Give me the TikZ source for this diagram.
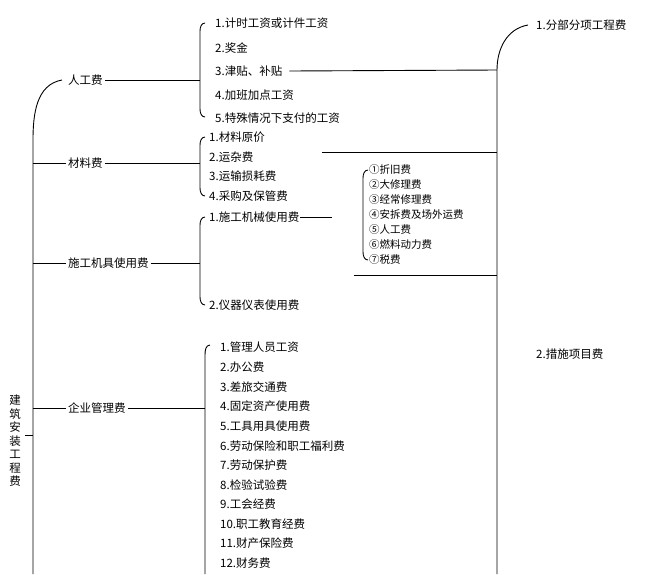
\documentclass[tikz,border=0pt]{standalone}
\usepackage{fontspec}
\setmainfont{Noto Sans CJK SC}
\usetikzlibrary{calc}
\tikzset{
  item/.style={anchor=west,inner sep=1pt,font=\fontsize{11.5}{13}\selectfont},
  small/.style={anchor=west,inner sep=0pt,font=\fontsize{10.5}{12}\selectfont},
  head/.style={inner sep=2pt,font=\fontsize{11.5}{13}\selectfont},
  line/.style={line width=.9pt}
}
\newcommand{\brc}[3]{\draw[line] ($(#1,#2)+(5,0)$) to[out=180,in=90] ($(#1,#2)+(0,8)$) -- ($(#1,#3)+(0,-8)$) to[out=-90,in=180] ($(#1,#3)+(5,0)$);}
\begin{document}
\begin{tikzpicture}[x=1pt,y=-1pt]
\useasboundingbox (0,0) rectangle (647,574);

%root
\node[head,align=center,inner sep=0pt,font=\fontsize{11.5}{13.5}\selectfont] (root) at (15,441) {建\\筑\\安\\装\\工\\程\\费};
\coordinate (spine) at (33,435);
\draw[line] (25,435) -- (spine);
\draw[line] (33,574) -- (33,140) to[out=90,in=190] (62,80);

%labour
\node[head,anchor=west] (lab) at (66,80) {人工费};
\draw[line] (lab.east) -- (200,80);
\brc{200}{23}{117}
\node[item] (l1) at (214,23) {1.计时工资或计件工资};
\node[item] (l2) at (214,48) {2.奖金};
\node[item] (l3) at (214,71) {3.津贴、补贴};
\node[item] (l4) at (214,95) {4.加班加点工资};
\node[item] (l5) at (214,118) {5.特殊情况下支付的工资};

%material
\node[head,anchor=west] (mat) at (66,163) {材料费};
\draw[line] (33,163) -- (mat.west);
\draw[line] (mat.east) -- (200,163);
\brc{200}{137}{196}
\node[item] (m1) at (208,137) {1.材料原价};
\node[item] (m2) at (208,157) {2.运杂费};
\node[item] (m3) at (208,176) {3.运输损耗费};
\node[item] (m4) at (208,196) {4.采购及保管费};

%machinery
\node[head,anchor=west] (mac) at (66,263) {施工机具使用费};
\draw[line] (33,263) -- (mac.west);
\draw[line] (mac.east) -- (200,263);
\brc{200}{217}{305}
\node[item] (c1) at (208,217) {1.施工机械使用费};
\node[item] (c2) at (208,305) {2.仪器仪表使用费};
\draw[line] (c1.east) -- ++(32,0) coordinate (c1e);
\brc{363}{170}{260}
\foreach \t [count=\i] in {①折旧费,②大修理费,③经常修理费,④安拆费及场外运费,⑤人工费,⑥燃料动力费,⑦税费}
  \node[small] (d\i) at (369,{155+15*\i}) {\t};

%management
\node[head,anchor=west] (mgt) at (66,408) {企业管理费};
\draw[line] (33,408) -- (mgt.west);
\draw[line] (mgt.east) -- (205,408);
\draw[line] (210,345) to[out=180,in=90] (205,355) -- (205,574);
\foreach \t [count=\i] in {1.管理人员工资,2.办公费,3.差旅交通费,4.固定资产使用费,5.工具用具使用费,6.劳动保险和职工福利费,7.劳动保护费,8.检验试验费,9.工会经费,10.职工教育经费,11.财产保险费,12.财务费}
  \node[item] (g\i) at (219,{328+19.6*\i}) {\t};

%right side
\coordinate (r1) at (497,70);
\coordinate (r2) at (497,152);
\coordinate (r3) at (497,275);
\draw[line] (l3.east)+(6,0) -- (r1);
\draw[line] (322,152) -- (r2);
\draw[line] (354,275) -- (r3);
\draw[line] (497,574) -- (r1) to[out=90,in=190] (528,25);
\node[head,anchor=west] (p1) at (534,25) {1.分部分项工程费};
\node[head,anchor=west] (p2) at (534,354) {2.措施项目费};
\end{tikzpicture}
\end{document}
